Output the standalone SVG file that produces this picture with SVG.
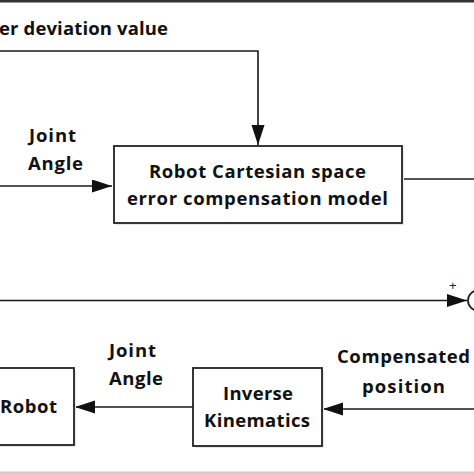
<svg xmlns="http://www.w3.org/2000/svg" width="474" height="474" viewBox="0 0 474 474">
<style>
.t{font-family:"Open Sans","Liberation Sans",Arial,sans-serif;font-weight:bold;font-size:18.5px;fill:#111}
.box{fill:#fff;stroke:#222;stroke-width:1.8}
.sh{fill:#e8e8e8}
.ln{fill:none;stroke:#1a1a1a;stroke-width:1.6}
</style>
<defs>
<marker id="ah" markerUnits="userSpaceOnUse" markerWidth="20" markerHeight="14" refX="20" refY="6.5" orient="auto">
<path d="M0,0 L20,6.5 L0,13 z" fill="#111"/>
</marker>
</defs>
<rect x="0" y="0" width="474" height="2.5" fill="#333"/>
<rect x="0" y="471.5" width="474" height="2.5" fill="#ccc"/>
<g id="connectors">
<path class="ln" d="M0,51 H258 V145" marker-end="url(#ah)"/>
<path class="ln" d="M0,186 H112" marker-end="url(#ah)"/>
<path class="ln" d="M402,179 H474"/>
<path class="ln" d="M0,300.5 H467" stroke="#333" stroke-width="2" marker-end="url(#ah)"/>
<path class="ln" d="M193,407 H75" marker-end="url(#ah)"/>
<path class="ln" d="M474,409 H323" marker-end="url(#ah)"/>
</g>
<g id="labels">
<text class="t" x="-1" y="35" textLength="169" lengthAdjust="spacing">er deviation value</text>
<text class="t" x="29" y="142" textLength="47" lengthAdjust="spacing">Joint</text>
<text class="t" x="28" y="170" textLength="55" lengthAdjust="spacing">Angle</text>
<text class="t" x="109" y="357" textLength="47" lengthAdjust="spacing">Joint</text>
<text class="t" x="109" y="385" textLength="54" lengthAdjust="spacing">Angle</text>
<text class="t" x="337" y="363" textLength="133" lengthAdjust="spacing">Compensated</text>
<text class="t" x="362" y="393" textLength="83" lengthAdjust="spacing">position</text>
<text x="449" y="290" font-family="Liberation Sans,Arial,sans-serif" font-size="13" fill="#222">+</text>
</g>
<g id="node-model">
<rect class="sh" x="116" y="148" width="288" height="77"/>
<rect class="box" x="114" y="146" width="288" height="77"/>
<text class="t" x="149" y="178" textLength="217" lengthAdjust="spacing">Robot Cartesian space</text>
<text class="t" x="127" y="205" textLength="261" lengthAdjust="spacing">error compensation model</text>
</g>
<g id="node-sum">
<circle cx="478" cy="300.5" r="10" fill="#fff" stroke="#222" stroke-width="1.8"/>
</g>
<g id="node-robot">
<rect class="sh" x="-20" y="370" width="96" height="77"/>
<rect class="box" x="-22" y="368" width="96" height="77"/>
<text class="t" x="0" y="413" textLength="57" lengthAdjust="spacing">Robot</text>
</g>
<g id="node-ik">
<rect class="sh" x="195" y="370" width="129" height="78"/>
<rect class="box" x="193" y="368" width="129" height="78"/>
<text class="t" x="223" y="400" textLength="70" lengthAdjust="spacing">Inverse</text>
<text class="t" x="204" y="427" textLength="106" lengthAdjust="spacing">Kinematics</text>
</g>
</svg>
